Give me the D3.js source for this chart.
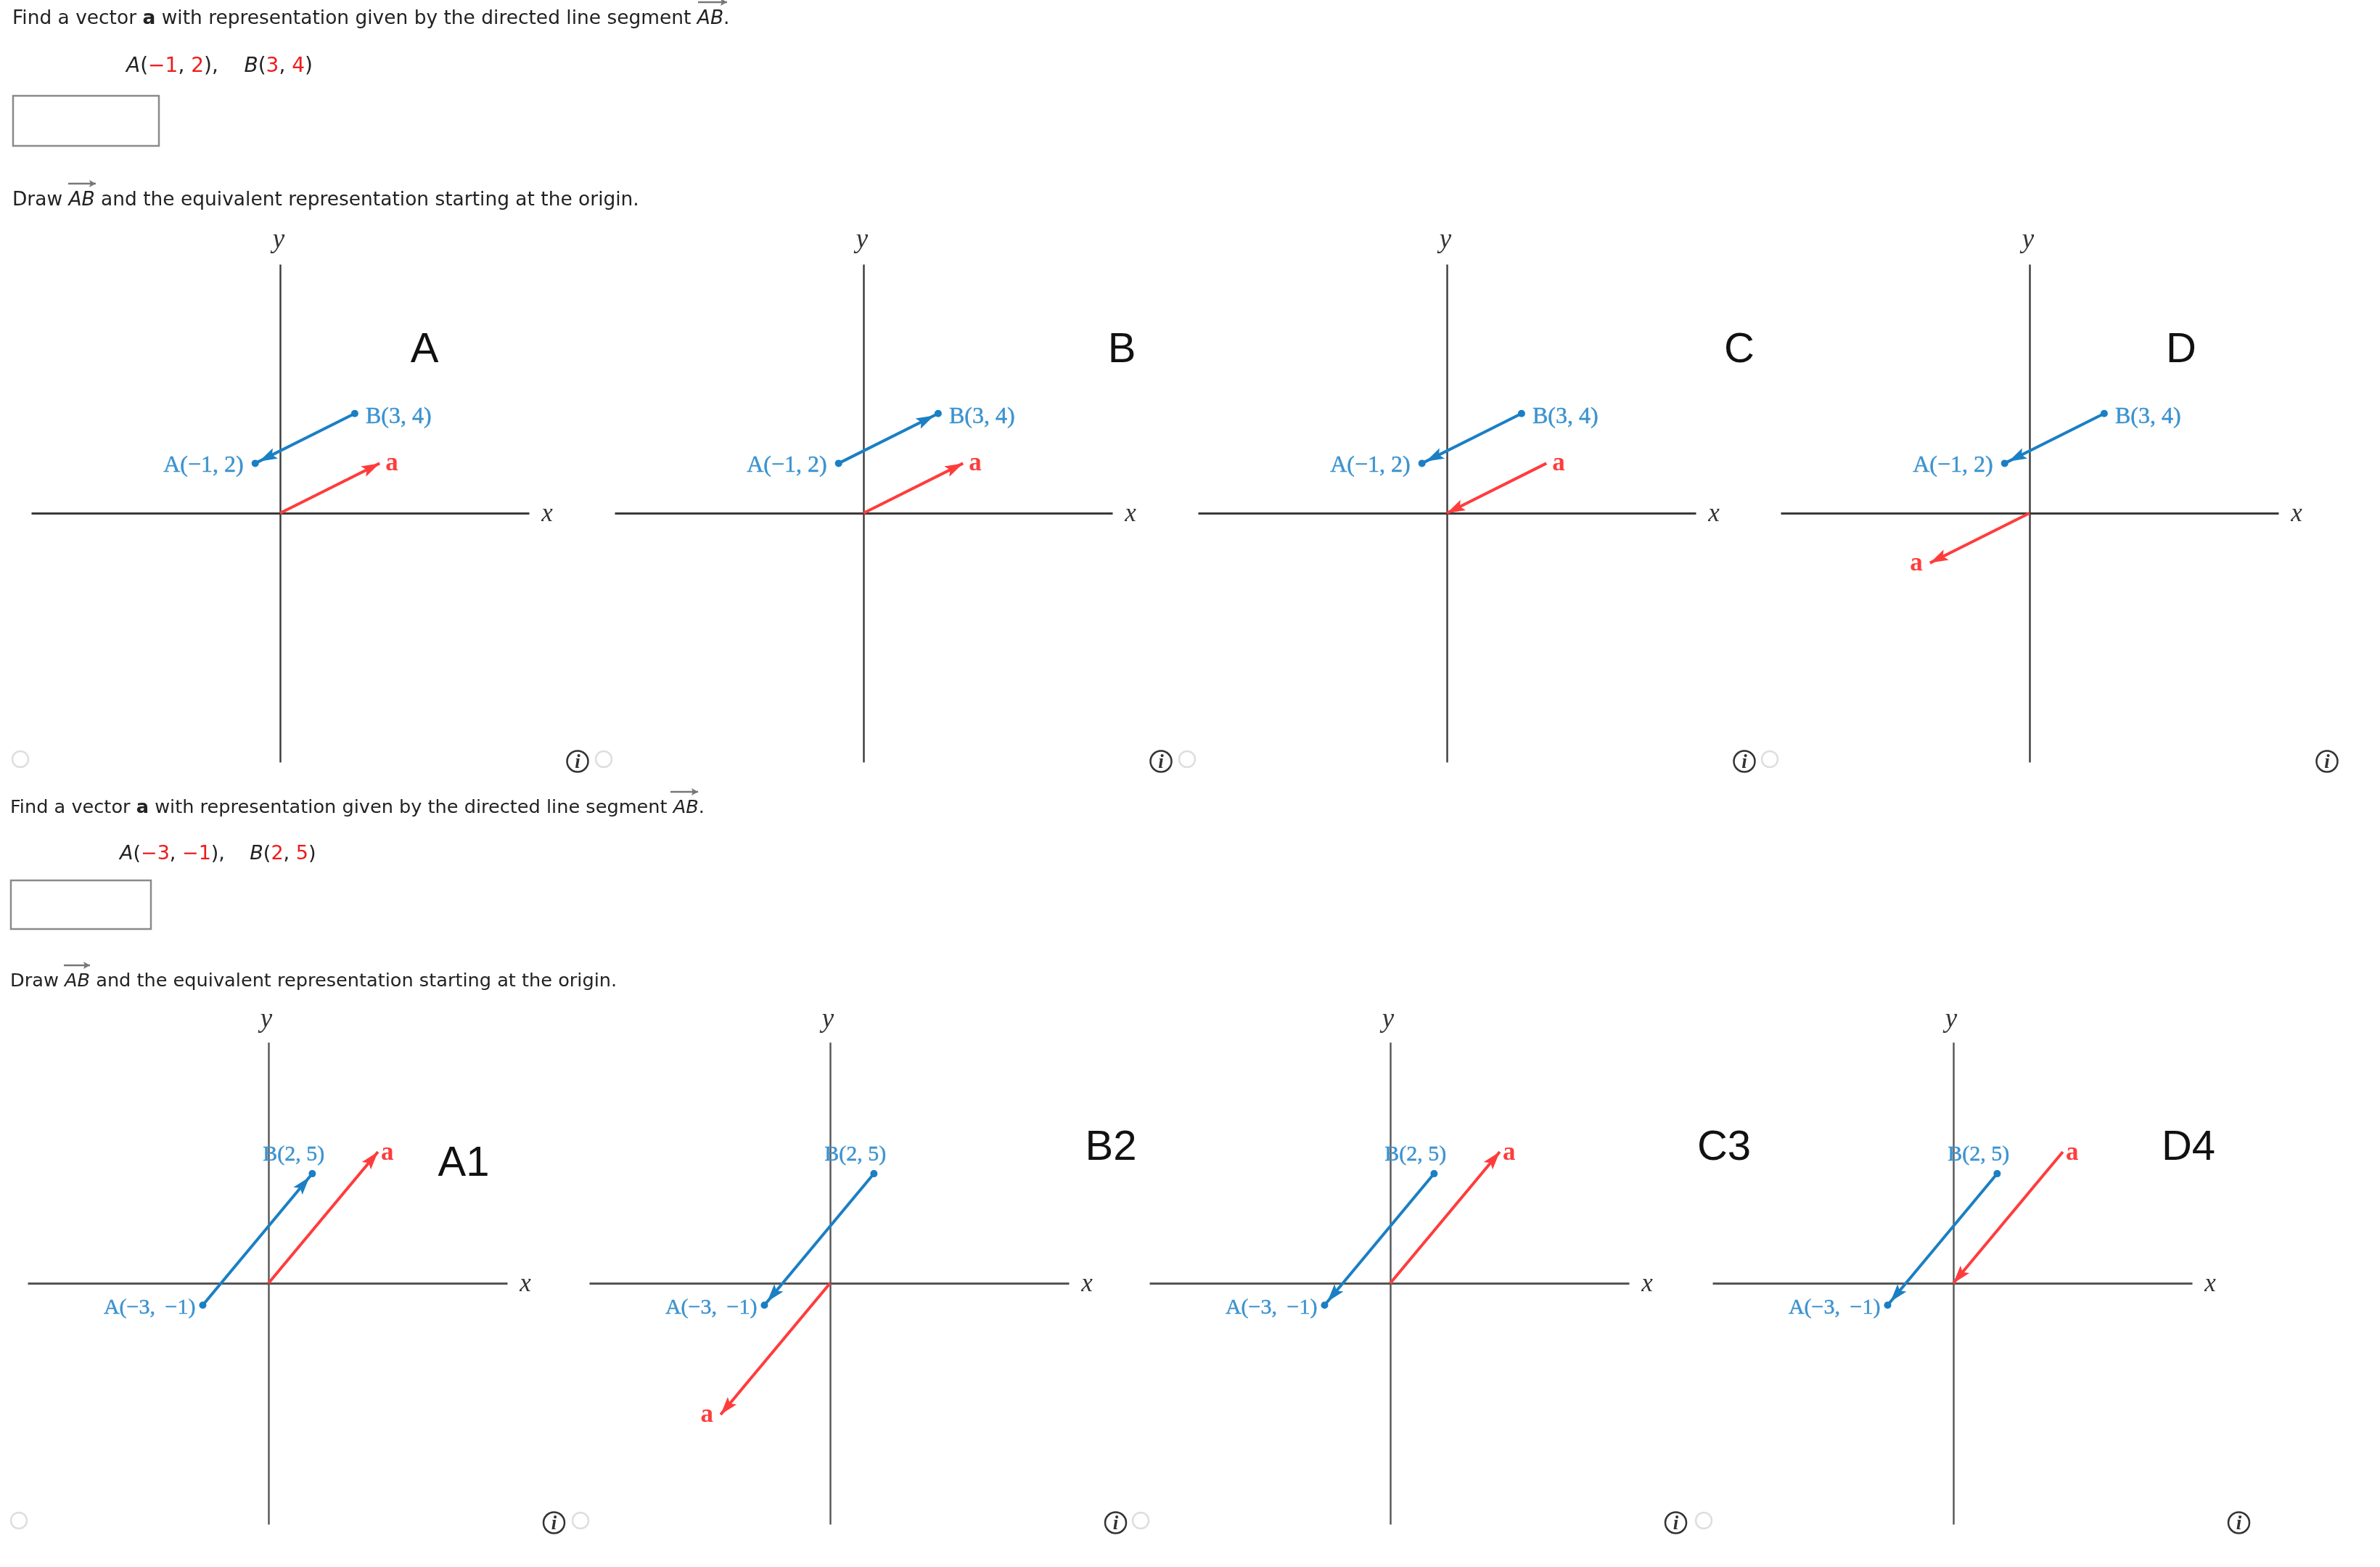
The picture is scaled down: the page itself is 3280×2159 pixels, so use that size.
<!DOCTYPE html>
<html>
<head>
<meta charset="utf-8">
<script src="https://cdn.jsdelivr.net/npm/d3@7"></script>
<style>
    html, body { margin: 0; background: #fff; }
    svg { display: block; filter: blur(0.7px); }
    text { white-space: pre; }
    .prompt { font-family: "DejaVu Sans"; font-size: 26.45px; fill: #222; }
    .math { font-family: "Liberation Serif"; }
</style>
</head>
<body>
<svg id="page" width="3280" height="2159"></svg>
<script>
// first question
var topLetters = ["A", "B", "C", "D"];
var topPointA = [-1, 2];
var topPointB = [3, 4];
var topLabelA = "A(\u22121, 2)";
var topLabelB = "B(3, 4)";
var topBlueHead = ["A", "B", "A", "A"];
var topRedFrom = [[0, 0], [0, 0], [4, 2], [0, 0]];
var topRedTo = [[4, 2], [4, 2], [0, 0], [-4, -2]];

// second question
var bottomLetters = ["A1", "B2", "C3", "D4"];
var bottomPointA = [-3, -1];
var bottomPointB = [2, 5];
var bottomLabelA = "A(\u22123, \u2009\u22121)";
var bottomLabelB = "B(2, 5)";
var bottomBlueHead = ["B", "A", "A", "A"];
var bottomRedFrom = [[0, 0], [0, 0], [0, 0], [5, 6]];
var bottomRedTo = [[5, 6], [-5, -6], [5, 6], [0, 0]];

var svg = d3.select("#page");
var BLUE = "#1b7fc4", BLUE_TEXT = "#3c93cf", RED = "#ff3c3c";

function addMarker(id, color, shift, len, wid) {
    svg.append("marker")
        .attr("id", id)
        .attr("markerUnits", "userSpaceOnUse")
        .attr("markerWidth", 60)
        .attr("markerHeight", 30)
        .attr("viewBox", "0 -15 60 30")
        .attr("refX", len + shift)
        .attr("refY", 0)
        .attr("orient", "auto")
        .append("path")
        .attr("d", "M0," + (-wid) + "L" + len + ",0L0," + wid + "L" + (len / 5) + ",0Z")
        .attr("fill", color);
}
addMarker("headBlue", BLUE, 6, 25, 8);
addMarker("headRed", RED, 0, 25, 8);
addMarker("headGrey", "#777", 0, 9, 5);

/* a text line made of runs: [string, style] */
function textLine(x, y, runs, size) {
    var t = svg.append("text").attr("class", "prompt").attr("x", x).attr("y", y);
    if (size) t.style("font-size", size + "px");
    runs.forEach(function(r) {
        var s = t.append("tspan").text(r[0]);
        if (r[1] == "b") s.style("font-weight", "bold");
        if (r[1] == "i") s.style("font-style", "italic");
        if (r[1] == "r") s.attr("fill", "#ee1c1c");
    });
}

function overArrow(x1, x2, y) {
    svg.append("line")
        .attr("x1", x1).attr("x2", x2).attr("y1", y).attr("y2", y)
        .attr("stroke", "#777").attr("stroke-width", 2.5)
        .attr("marker-end", "url(#headGrey)");
}

function inputBox(x, y, w, h) {
    svg.append("rect")
        .attr("x", x).attr("y", y).attr("width", w).attr("height", h)
        .attr("fill", "#fff").attr("stroke", "#8a8a8a").attr("stroke-width", 2.5);
}

function drawPanel(p) {
    var x = d3.scaleLinear().domain([-p.range, p.xMax]).range([p.ox - p.half, p.ox + p.half * p.xMax / p.range]);
    var y = d3.scaleLinear().domain([-p.range, p.range]).range([p.oy + p.half, p.oy - p.half]);
    var g = svg.append("g");

    var xAxis = g.append("g")
        .attr("transform", "translate(0," + y(0) + ")")
        .call(d3.axisBottom(x).tickValues([]).tickSizeOuter(0));
    var yAxis = g.append("g")
        .attr("transform", "translate(" + x(0) + ",0)")
        .call(d3.axisLeft(y).tickValues([]).tickSizeOuter(0));
    xAxis.select(".domain").attr("stroke", p.axisColor).attr("stroke-width", p.axisWidth);
    yAxis.select(".domain").attr("stroke", p.axisColor).attr("stroke-width", 2.4);

    g.append("text").attr("class", "math")
        .attr("x", x(0) + p.xLabelDx).attr("y", y(0) + 11)
        .attr("text-anchor", "middle")
        .style("font-size", "35px").style("font-style", "italic").attr("fill", "#333")
        .text("x");
    g.append("text").attr("class", "math")
        .attr("x", x(0) + p.yLabelDx).attr("y", y(0) - p.yLabelDy)
        .attr("text-anchor", "middle")
        .style("font-size", "37px").style("font-style", "italic").attr("fill", "#333")
        .text("y");

    // red vector a
    g.append("line")
        .attr("x1", x(p.redFrom[0])).attr("y1", y(p.redFrom[1]))
        .attr("x2", x(p.redTo[0])).attr("y2", y(p.redTo[1]))
        .attr("stroke", RED).attr("stroke-width", 4)
        .attr("marker-end", "url(#headRed)");

    // blue directed segment, arrow towards head
    var tail = p.blueHead == "A" ? p.pointB : p.pointA;
    var head = p.blueHead == "A" ? p.pointA : p.pointB;
    g.append("line")
        .attr("x1", x(tail[0])).attr("y1", y(tail[1]))
        .attr("x2", x(head[0])).attr("y2", y(head[1]))
        .attr("stroke", BLUE).attr("stroke-width", 4)
        .attr("marker-end", "url(#headBlue)");
    g.selectAll("circle.end")
        .data([p.pointA, p.pointB])
        .enter().append("circle")
        .attr("class", "end")
        .attr("cx", function(d) { return x(d[0]); })
        .attr("cy", function(d) { return y(d[1]); })
        .attr("r", 5)
        .attr("fill", BLUE);

    g.append("text").attr("class", "math")
        .attr("x", x(p.pointA[0]) + p.aDx).attr("y", y(p.pointA[1]) + p.aDy)
        .attr("text-anchor", "end")
        .style("font-size", p.labelSize + "px").attr("fill", BLUE_TEXT)
        .attr("stroke", BLUE_TEXT).attr("stroke-width", 0.5)
        .text(p.labelA);
    g.append("text").attr("class", "math")
        .attr("x", x(p.pointB[0]) + p.bDx).attr("y", y(p.pointB[1]) + p.bDy)
        .style("font-size", p.labelSize + "px").attr("fill", BLUE_TEXT)
        .attr("stroke", BLUE_TEXT).attr("stroke-width", 0.5)
        .text(p.labelB);

    // label of a sits past whichever end is away from the origin
    var far = (p.redFrom[0] == 0 && p.redFrom[1] == 0) ? p.redTo : p.redFrom;
    var leftSide = far[0] < 0;
    g.append("text").attr("class", "math")
        .attr("x", x(far[0]) + (leftSide ? -10 : p.redDx)).attr("y", y(far[1]) + (leftSide ? 10 : p.redDy))
        .attr("text-anchor", leftSide ? "end" : "start")
        .style("font-size", "35px").style("font-weight", "bold").attr("fill", RED)
        .text("a");

    // panel letter
    g.append("text")
        .attr("x", p.letterX).attr("y", p.letterY)
        .attr("text-anchor", "middle")
        .style("font-family", "Liberation Sans").style("font-size", "58px").attr("fill", "#111")
        .text(p.letter);

    // radio button and info icon
    g.append("circle")
        .attr("cx", x(0) + p.radioDx).attr("cy", p.radioY).attr("r", 11)
        .attr("fill", "#fff").attr("stroke", "#dedede").attr("stroke-width", 2.5);
    g.append("circle")
        .attr("cx", x(0) + p.infoDx).attr("cy", p.infoY).attr("r", 14.5)
        .attr("fill", "#fff").attr("stroke", "#333").attr("stroke-width", 2.5);
    g.append("text").attr("class", "math")
        .attr("x", x(0) + p.infoDx).attr("y", p.infoY + 9)
        .attr("text-anchor", "middle")
        .style("font-size", "27px").style("font-style", "italic").style("font-weight", "bold").attr("fill", "#333")
        .text("i");
}

// header text of both questions
textLine(17, 33, [["Find a vector "], ["a", "b"], [" with representation given by the directed line segment "], ["AB", "i"], ["."]]);
overArrow(962, 1002, 3);
textLine(174, 99, [["A", "i"], ["("], ["\u22121", "r"], [", "], ["2", "r"], ["),"], ["    "], ["B", "i"], ["("], ["3", "r"], [", "], ["4", "r"], [")"]], 28);
inputBox(18, 132, 201, 69);
textLine(17, 283, [["Draw "], ["AB", "i"], [" and the equivalent representation starting at the origin."]]);
overArrow(94, 132, 253);

textLine(14, 1120, [["Find a vector "], ["a", "b"], [" with representation given by the directed line segment "], ["AB", "i"], ["."]], 25.6);
overArrow(924, 962, 1091);
textLine(165, 1184, [["A", "i"], ["("], ["\u22123", "r"], [", "], ["\u22121", "r"], ["),"], ["    "], ["B", "i"], ["("], ["2", "r"], [", "], ["5", "r"], [")"]], 27);
inputBox(15, 1213, 193, 67);
textLine(14, 1359, [["Draw "], ["AB", "i"], [" and the equivalent representation starting at the origin."]], 25.6);
overArrow(88, 124, 1330);

var topOrigins = [386, 1190, 1994, 2797];
var topLetterX = [585, 1546, 2397, 3006];
topLetters.forEach(function(letter, i) {
    drawPanel({
        letter: letter, letterX: topLetterX[i], letterY: 499,
        ox: topOrigins[i], oy: 707, half: 343, range: 10, xMax: 10,
        pointA: topPointA, pointB: topPointB, labelA: topLabelA, labelB: topLabelB,
        blueHead: topBlueHead[i], redFrom: topRedFrom[i], redTo: topRedTo[i],
        labelSize: 32, aDx: -16, aDy: 12, bDx: 15, bDy: 13, redDx: 8, redDy: 10,
        axisColor: "#3a3a3a", axisWidth: 2.8,
        xLabelDx: 368, yLabelDx: -2, yLabelDy: 366,
        radioDx: -358, radioY: 1046, infoDx: 410, infoY: 1049
    });
});

var bottomOrigins = [370, 1144, 1916, 2692];
var bottomLetterX = [639, 1531, 2376, 3016];
var bottomLetterY = [1620, 1598, 1598, 1598];
bottomLetters.forEach(function(letter, i) {
    drawPanel({
        letter: letter, letterX: bottomLetterX[i], letterY: bottomLetterY[i],
        ox: bottomOrigins[i], oy: 1768, half: 332, range: 11, xMax: 10.9,
        pointA: bottomPointA, pointB: bottomPointB, labelA: bottomLabelA, labelB: bottomLabelB,
        blueHead: bottomBlueHead[i], redFrom: bottomRedFrom[i], redTo: bottomRedTo[i],
        labelSize: 30, aDx: -10, aDy: 12, bDx: -68, bDy: -18, redDx: 4, redDy: 11,
        axisColor: "#555", axisWidth: 3.2,
        xLabelDx: 354, yLabelDx: -3, yLabelDy: 353,
        radioDx: -344, radioY: 2095, infoDx: 393.5, infoY: 2098
    });
});
</script>
</body>
</html>
